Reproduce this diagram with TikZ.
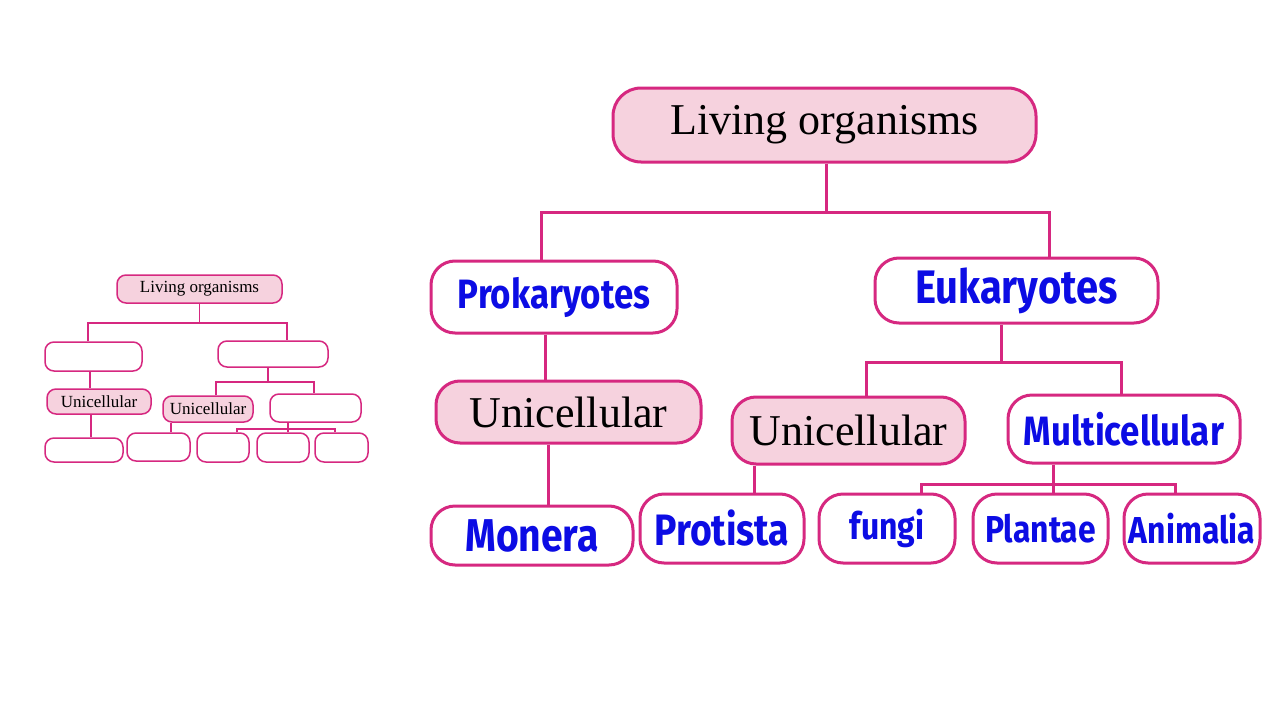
\documentclass[tikz,border=0pt]{standalone}
\usepackage{fontspec}
\setmainfont{Liberation Serif}
\newfontfamily\handfont[FakeStretch=0.85]{Fira Sans}
\newcommand\handsz[1]{\handfont\bfseries\fontsize{#1}{#1}\selectfont}
\usepackage{tikz}
\usetikzlibrary{positioning,calc}
\definecolor{orgpink}{RGB}{214,40,128}
\definecolor{boxpink}{RGB}{246,210,222}
\definecolor{handblue}{RGB}{12,12,228}

\begin{document}
\begin{tikzpicture}[
  x=1pt, y=-1pt,
  big/.style={draw=orgpink,line width=3pt,rounded corners=24pt,fill=white,inner sep=0pt},
  bigfill/.style={big,fill=boxpink,font=\fontsize{44}{50}\selectfont},
  hand/.style={big,text=handblue,font=\handsz{41}},
  small/.style={draw=orgpink,line width=1.5pt,rounded corners=9pt,fill=white,inner sep=0pt},
  smallfill/.style={small,fill=boxpink,font=\fontsize{17}{20}\selectfont},
  link/.style={draw=orgpink,line width=3pt},
  slink/.style={draw=orgpink,line width=1.5pt},
]
  \useasboundingbox[fill=white] (0,0) rectangle (1280,720);

  % bar levels
  \coordinate (sbar1) at (0,323);
  \coordinate (sbar2) at (0,382);
  \coordinate (sbar3) at (0,429);
  \coordinate (bar1) at (0,212);
  \coordinate (bar2) at (0,362);
  \coordinate (bar3) at (0,484);

  % empty template
  \node[smallfill,minimum width=165pt,minimum height=28pt] (sroot) at (199.5,289) {Living organisms};
  \node[small,minimum width=97pt,minimum height=29pt] (sleft) at (93.5,356.5) {};
  \node[small,minimum width=110pt,minimum height=26pt] (sright) at (273,354) {};
  \node[smallfill,minimum width=104pt,minimum height=25pt] (suni1) at (99,401.5) {Unicellular};
  \node[smallfill,minimum width=90pt,minimum height=26pt] (suni2) at (208,409) {Unicellular};
  \node[small,minimum width=91pt,minimum height=28pt] (smulti) at (315.5,408) {};
  \node[small,minimum width=78pt,minimum height=24pt] (sb1) at (84,450) {};
  \node[small,minimum width=63pt,minimum height=28pt] (sb2) at (158.5,447) {};
  \node[small,minimum width=52pt,minimum height=29pt] (sb3) at (223,447.5) {};
  \node[small,minimum width=52pt,minimum height=29pt] (sb4) at (283,447.5) {};
  \node[small,minimum width=53pt,minimum height=29pt] (sb5) at (341.5,447.5) {};

  \draw[slink] (sroot.south) -- (sroot.south |- sbar1);
  \draw[slink] ([xshift=-5.5pt]sleft.north) -- ([xshift=-5.5pt]sleft.north |- sbar1)
    -- ([xshift=14pt]sright.north |- sbar1) -- ([xshift=14pt]sright.north);
  \draw[slink] ([xshift=-3.5pt]sleft.south) -- ([xshift=-3.5pt]sleft.south |- suni1.north);
  \draw[slink] ([xshift=-8pt]suni1.south) -- ([xshift=-8pt]suni1.south |- sb1.north);
  \draw[slink] ([xshift=-5pt]sright.south) -- ([xshift=-5pt]sright.south |- sbar2);
  \draw[slink] ([xshift=8pt]suni2.north) -- ([xshift=8pt]suni2.north |- sbar2)
    -- ([xshift=-1.5pt]smulti.north |- sbar2) -- ([xshift=-1.5pt]smulti.north);
  \draw[slink] ([xshift=-37pt]suni2.south) -- ([xshift=-37pt]suni2.south |- sb2.north);
  \draw[slink] ([xshift=-27.5pt]smulti.south) -- ([xshift=5pt]sb4.north);
  \draw[slink] ([xshift=14pt]sb3.north) -- ([xshift=14pt]sb3.north |- sbar3)
    -- ([xshift=-6.5pt]sb5.north |- sbar3) -- ([xshift=-6.5pt]sb5.north);

  % filled chart
  \node[bigfill,minimum width=423pt,minimum height=74pt,rounded corners=28pt] (root) at (824.5,125) {Living organisms};
  \node[hand,minimum width=246pt,minimum height=72pt] (pro) at (554,297) {Prokaryotes};
  \node[hand,minimum width=283pt,minimum height=65pt,font=\handsz{47}] (euk) at (1016.5,290.5) {Eukaryotes};
  \node[bigfill,minimum width=265pt,minimum height=62pt] (uni1) at (568.5,412) {Unicellular};
  \node[bigfill,minimum width=233pt,minimum height=67pt] (uni2) at (848.5,430.5) {Unicellular};
  \node[hand,minimum width=232pt,minimum height=68pt] (multi) at (1124,429) {Multicellular};
  \node[hand,minimum width=202pt,minimum height=59pt,font=\handsz{46}] (mon) at (532,535.5) {Monera};
  \node[hand,minimum width=164pt,minimum height=69pt,font=\handsz{44}] (prot) at (722,528.5) {Protista};
  \node[hand,minimum width=136pt,minimum height=69pt,font=\handsz{37.5}] (fungi) at (887,528.5) {fungi};
  \node[hand,minimum width=135pt,minimum height=69pt,font=\handsz{37.5}] (plant) at (1040.5,528.5) {Plantae};
  \node[hand,minimum width=136pt,minimum height=69pt,font=\handsz{37.5}] (anim) at (1192,528.5) {Animalia};

  \draw[link] ([xshift=1.5pt]root.south) -- ([xshift=1.5pt]root.south |- bar1);
  \draw[link] ([xshift=-13pt]pro.north) -- ([xshift=-13pt]pro.north |- bar1)
    -- ([xshift=32.5pt]euk.north |- bar1) -- ([xshift=32.5pt]euk.north);
  \draw[link] ([xshift=-9pt]pro.south) -- ([xshift=-9pt]pro.south |- uni1.north);
  \draw[link] ([xshift=-20.5pt]uni1.south) -- ([xshift=-20.5pt]uni1.south |- mon.north);
  \draw[link] ([xshift=-15.5pt]euk.south) -- ([xshift=-15.5pt]euk.south |- bar2);
  \draw[link] ([xshift=17.5pt]uni2.north) -- ([xshift=17.5pt]uni2.north |- bar2)
    -- ([xshift=-3pt]multi.north |- bar2) -- ([xshift=-3pt]multi.north);
  \draw[link] ([xshift=-94.5pt]uni2.south) -- ([xshift=-94.5pt]uni2.south |- prot.north);
  \draw[link] ([xshift=-71pt]multi.south) -- ([xshift=12.5pt]plant.north);
  \draw[link] ([xshift=34pt]fungi.north) -- ([xshift=34pt]fungi.north |- bar3)
    -- ([xshift=-17pt]anim.north |- bar3) -- ([xshift=-17pt]anim.north);
\end{tikzpicture}
\end{document}
